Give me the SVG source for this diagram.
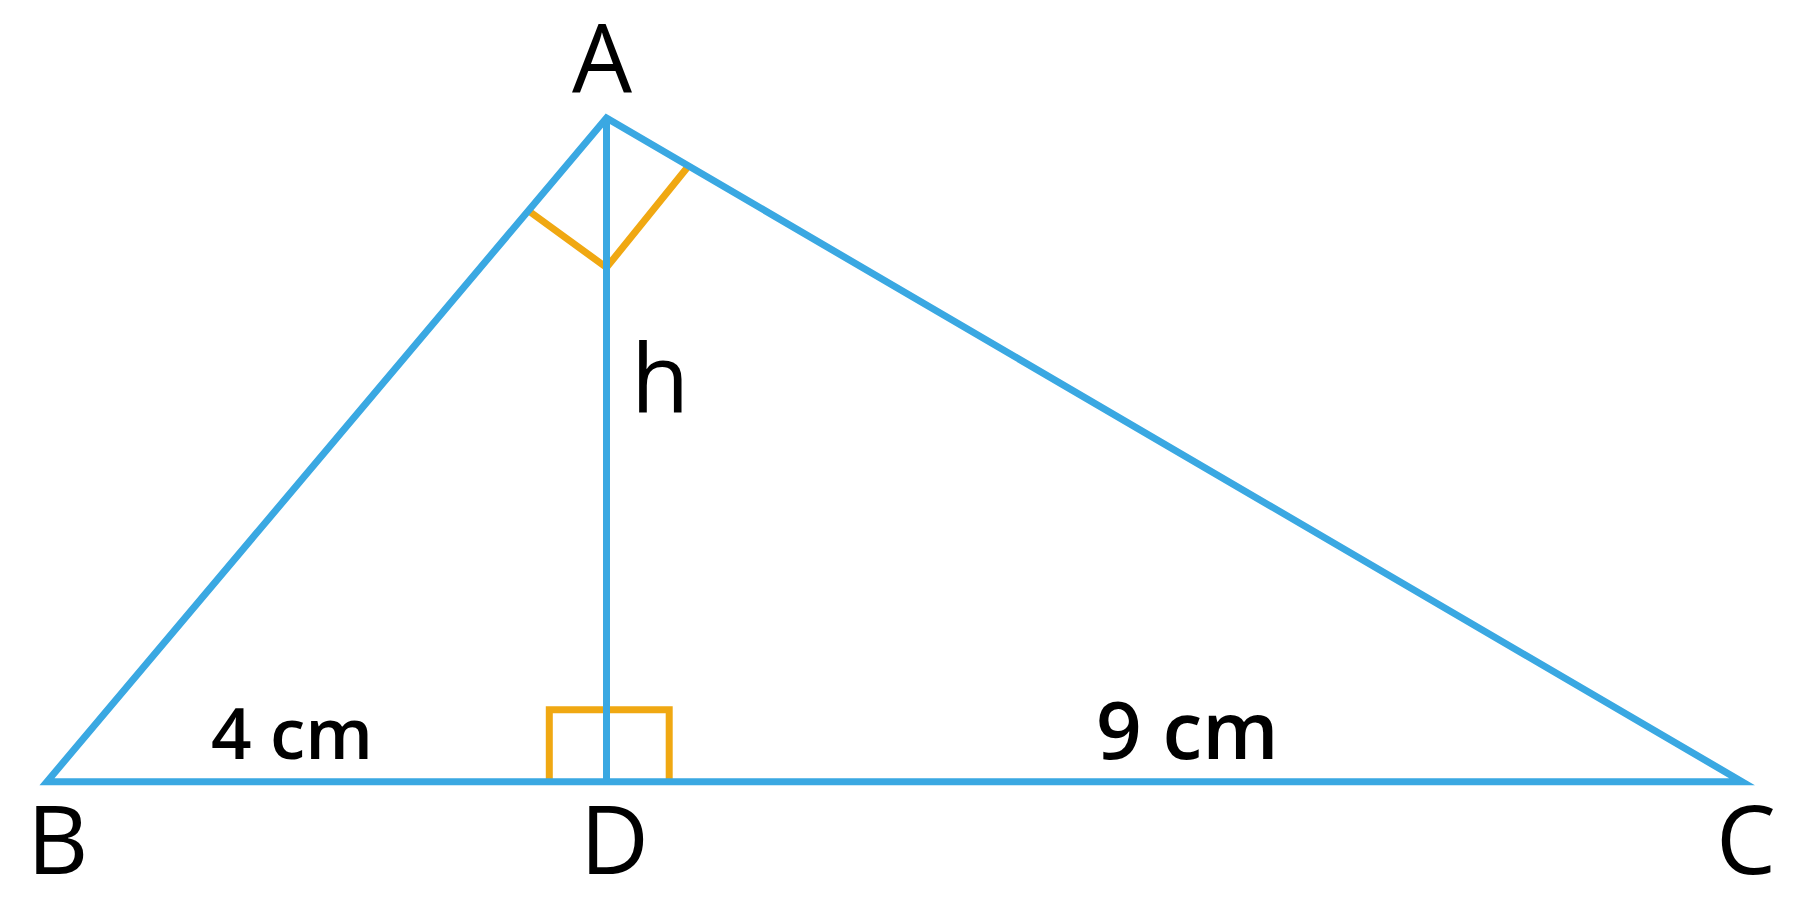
<svg xmlns="http://www.w3.org/2000/svg" width="1800" height="900" viewBox="0 0 1800 900">
<style>
.edge{fill:none;stroke:#3AA8E2;stroke-width:7;stroke-linejoin:miter;stroke-miterlimit:10}
.mark{fill:none;stroke:#F0A812;stroke-width:7;stroke-linejoin:miter}
.lbl{font-family:"Open Sans","Noto Sans","Liberation Sans",sans-serif;font-size:95px;fill:#000}
.dim{font-family:"Open Sans","Noto Sans","Liberation Sans",sans-serif;font-weight:600;fill:#000}
</style>
<rect width="1800" height="900" fill="#fff"/>
<g id="connectors">
<path class="mark" d="M529.5,211.5 L606.5,267.5 L688.5,166"/>
<path class="mark" d="M549.3,779 V709.7 H669.2 V779"/>
<polygon class="edge" points="606.5,118 47,781.7 1742,781.7"/>
<line class="edge" x1="606.5" y1="118" x2="606.5" y2="781.7"/>
</g>
<g id="node-A"><text class="lbl" x="602" y="93" text-anchor="middle">A</text></g>
<g id="node-B"><text class="lbl" x="27" y="874">B</text></g>
<g id="node-C"><text class="lbl" x="1716" y="874">C</text></g>
<g id="node-D"><text class="lbl" x="580" y="874">D</text></g>
<g id="label-h"><text class="lbl" x="631" y="412">h</text></g>
<g id="label-BD"><text class="dim" x="211" y="759" font-size="71">4 cm</text></g>
<g id="label-DC"><text class="dim" x="1096" y="759" font-size="80">9 cm</text></g>
</svg>
